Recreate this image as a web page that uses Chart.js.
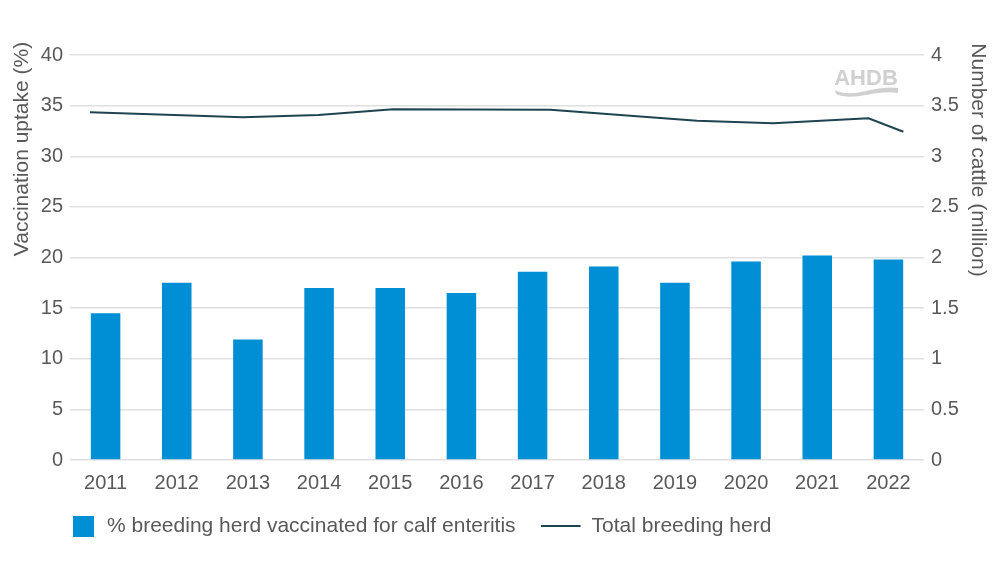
<!DOCTYPE html>
<html>
<head>
<meta charset="utf-8">
<script src="https://cdn.jsdelivr.net/npm/chart.js@4/dist/chart.umd.min.js"></script>
<style>
  html, body { margin: 0; padding: 0; background: #ffffff; }
  #wrap { width: 1000px; height: 583px; position: relative; }
</style>
</head>
<body>
<div id="wrap"><canvas id="c"></canvas></div>
<script>
// ---- Data ----
const years = ['2011','2012','2013','2014','2015','2016','2017','2018','2019','2020','2021','2022'];
const vaccinatedPct = [14.5, 17.5, 11.9, 17.0, 17.0, 16.5, 18.6, 19.1, 17.5, 19.6, 20.2, 19.8];
// Total breeding herd line (million head), positions in year units along the category axis
const herdX = [2010.78, 2012.93, 2013.99, 2015.04, 2017.25, 2019.31, 2020.38, 2021.72, 2022.21];
const herdMillions = [3.434, 3.385, 3.407, 3.464, 3.460, 3.351, 3.325, 3.375, 3.242];
const leftAxis = { min: 0, max: 40, step: 5 };
const rightAxis = { min: 0, max: 4, step: 0.5 };
const seriesLabels = ['% breeding herd vaccinated for calf enteritis', 'Total breeding herd'];
const axisTitles = { left: 'Vaccination uptake (%)', right: 'Number of cattle (million)' };
const logoText = 'AHDB';

// ---- Style ----
const FONT = "'Liberation Sans', Arial, Helvetica, sans-serif";
const TEXT = '#595959';
const BAR = '#008fd5';
const LINE = '#1e4452';
const GRID = '#e0e0e0';

// legend icons
function makeBox() {
  const c = document.createElement('canvas'); c.width = 21; c.height = 21;
  const g = c.getContext('2d'); g.fillStyle = BAR; g.fillRect(0, 0, 21, 21); return c;
}
function makeLine() {
  const c = document.createElement('canvas'); c.width = 55; c.height = 2;
  const g = c.getContext('2d'); g.fillStyle = LINE; g.fillRect(0, 0, 40, 2); return c;
}
const legendIcons = [makeBox(), makeLine()];

const extras = {
  id: 'extras',
  afterLayout(chart) {
    const lg = chart.legend;
    if (lg) { lg.left = 31; lg.top = 476; }
  },
  afterDraw(chart) {
    const ctx = chart.ctx;
    ctx.save();
    ctx.fillStyle = TEXT;
    ctx.font = '21px ' + FONT;
    ctx.textAlign = 'center';
    ctx.textBaseline = 'alphabetic';
    // left title
    ctx.save(); ctx.translate(28, 149); ctx.rotate(-Math.PI / 2);
    ctx.fillText(axisTitles.left, 0, 0); ctx.restore();
    // right title
    ctx.save(); ctx.translate(972, 160); ctx.rotate(Math.PI / 2);
    ctx.fillText(axisTitles.right, 0, 0); ctx.restore();
    // logo
    ctx.fillStyle = '#d0d0d0';
    ctx.font = 'bold 22px ' + FONT;
    ctx.textAlign = 'center';
    ctx.fillText(logoText, 866, 85);
    ctx.beginPath();
    ctx.moveTo(835, 90);
    ctx.quadraticCurveTo(846, 96, 866, 91);
    ctx.quadraticCurveTo(886, 86, 898, 88);
    ctx.lineTo(898, 93);
    ctx.quadraticCurveTo(886, 91, 866, 95);
    ctx.quadraticCurveTo(846, 99, 836, 94);
    ctx.closePath();
    ctx.fill();
    ctx.restore();
  }
};

new Chart(document.getElementById('c'), {
  type: 'bar',
  data: {
    labels: years,
    datasets: [
      {
        type: 'bar',
        label: seriesLabels[0],
        data: vaccinatedPct,
        backgroundColor: BAR,
        borderWidth: 0,
        grouped: false,
        categoryPercentage: 1,
        barPercentage: 0.415,
        xAxisID: 'x',
        yAxisID: 'y',
        order: 2
      },
      {
        type: 'line',
        label: seriesLabels[1],
        data: herdX.map((x, i) => ({ x: x, y: herdMillions[i] })),
        borderColor: LINE,
        backgroundColor: LINE,
        borderWidth: 2,
        pointRadius: 0,
        tension: 0,
        fill: false,
        xAxisID: 'x2',
        yAxisID: 'y1',
        order: 1
      }
    ]
  },
  options: {
    responsive: true,
    maintainAspectRatio: false,
    animation: false,
    layout: { padding: { top: 55, left: 0, right: 0, bottom: 27.5 } },
    plugins: {
      title: { display: false },
      tooltip: { enabled: false },
      legend: {
        position: 'bottom',
        align: 'start',
        maxHeight: 60,
        labels: {
          usePointStyle: true,
          pointStyleWidth: 26,
          boxHeight: 21,
          padding: 39.5,
          color: TEXT,
          font: { family: FONT, size: 21 },
          generateLabels(chart) {
            return chart.data.datasets.map((ds, i) => ({
              text: ds.label,
              pointStyle: legendIcons[i],
              fillStyle: i === 0 ? BAR : LINE,
              strokeStyle: i === 0 ? BAR : LINE,
              lineWidth: 0,
              hidden: false,
              fontColor: TEXT,
              datasetIndex: i
            }));
          }
        }
      }
    },
    scales: {
      x: {
        type: 'category',
        offset: true,
        grid: { display: false },
        border: { display: false },
        ticks: { color: TEXT, font: { family: FONT, size: 20 }, padding: 3, maxRotation: 0 },
        afterFit(s) { s.height = 35.5; }
      },
      x2: {
        type: 'linear',
        display: false,
        offset: false,
        bounds: 'data',
        grace: 0,
        min: 2010.5,
        max: 2022.5
      },
      y: {
        position: 'left',
        min: leftAxis.min,
        max: leftAxis.max,
        grid: { color: GRID, lineWidth: 1.5, drawTicks: false },
        border: { display: false },
        ticks: { stepSize: leftAxis.step, color: TEXT, font: { family: FONT, size: 20 }, padding: 7 },
        afterFit(s) { s.width = 70; }
      },
      y1: {
        position: 'right',
        min: rightAxis.min,
        max: rightAxis.max,
        grid: { display: false, drawTicks: false },
        border: { display: false },
        ticks: {
          stepSize: rightAxis.step, color: TEXT, font: { family: FONT, size: 20 }, padding: 7,
          callback: (v) => String(Math.round(v * 10) / 10)
        },
        afterFit(s) { s.width = 76; }
      }
    }
  },
  plugins: [extras]
});
</script>
</body>
</html>
